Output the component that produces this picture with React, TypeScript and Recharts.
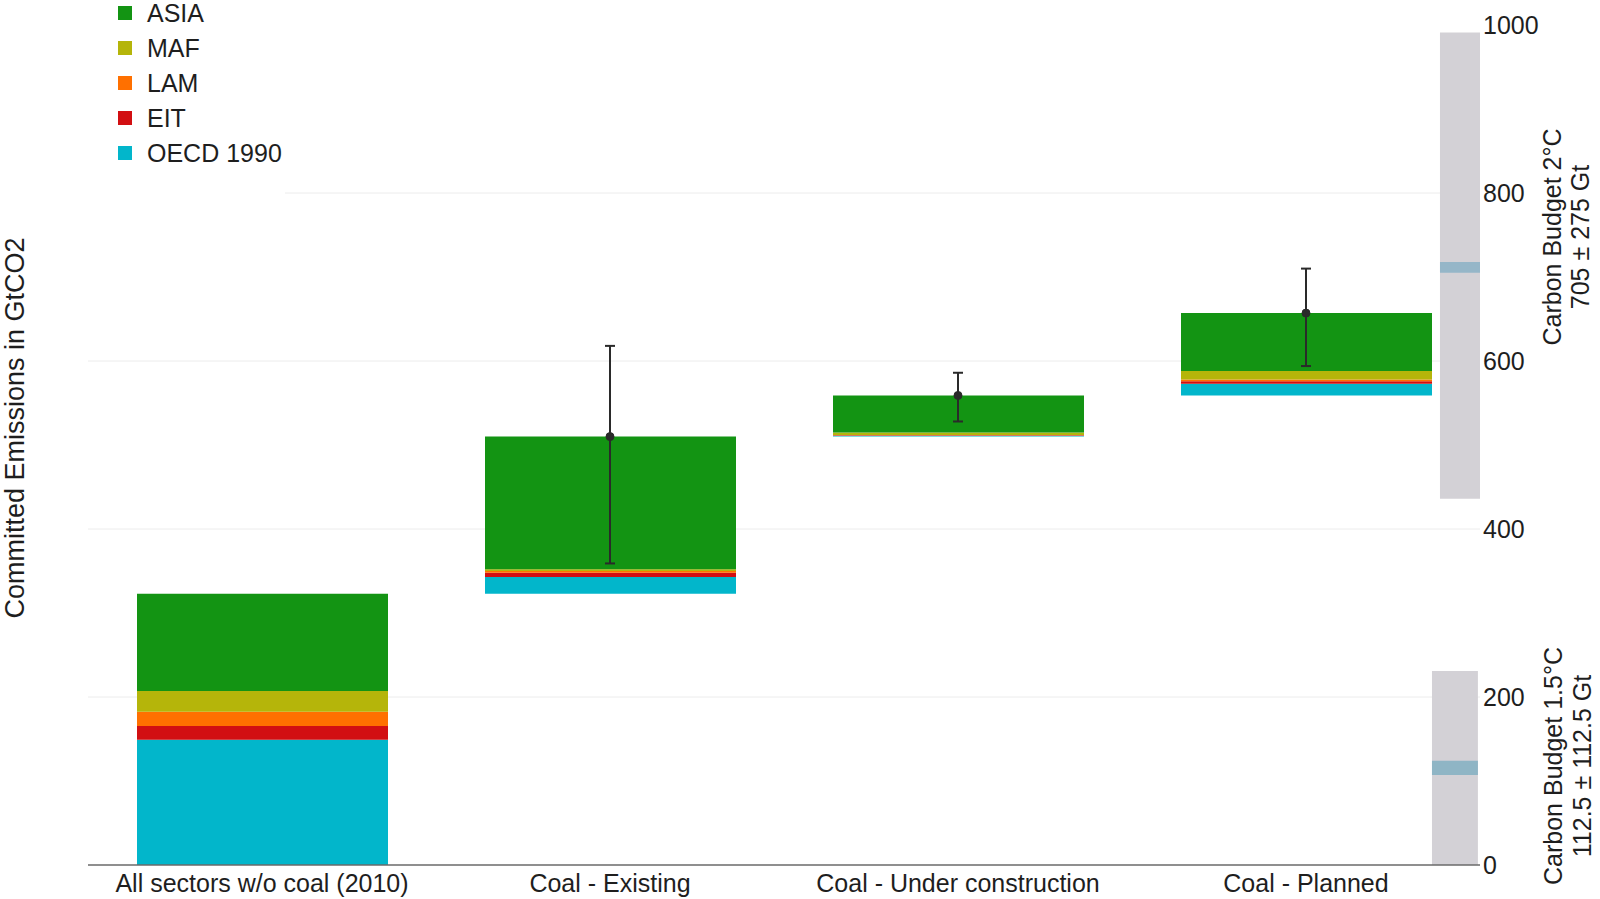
import React from "react";
import {
  ComposedChart,
  Bar,
  Line,
  ErrorBar,
  XAxis,
  YAxis,
  CartesianGrid,
  ReferenceArea,
} from "recharts";

// categories along the x axis
const categories = [
  "All sectors w/o coal (2010)",
  "Coal - Existing",
  "Coal - Under construction",
  "Coal - Planned",
];

// committed emissions per region (GtCO2), each bar stacks on the previous total
const oecd = [149, 20, 1, 14];
const eit = [16.5, 5, 0.5, 3];
const lam = [17, 2, 0.5, 2];
const maf = [24.5, 2, 3, 10];
const asia = [116, 158, 44, 69];

// uncertainty range around the top of each coal bar
const errLow: (number | null)[] = [null, 359, 528, 594];
const errHigh: (number | null)[] = [null, 618, 586, 710];

// carbon budgets: grey range and central estimate band
const budget2Range = [436, 991];
const budget2Mark = [705, 718];
const budget15Range = [0, 231];
const budget15Mark = [107, 124];

const rightTicks = [0, 200, 400, 600, 800, 1000];
const leftTicks = [1000];
const gridValues = [200, 400, 600, 800];

const FONT = "'Liberation Sans', Arial, sans-serif";
const TEXT = "#1e1e1e";

// horizontal placement of the budget columns, in category-index units
const BUDGET2_X = [3.385, 3.5];
const BUDGET15_X = [3.362, 3.494];

const regions = [
  { key: "oecd", name: "OECD 1990", color: "#02b6cb", values: oecd },
  { key: "eit", name: "EIT", color: "#d20f12", values: eit },
  { key: "lam", name: "LAM", color: "#ff7000", values: lam },
  { key: "maf", name: "MAF", color: "#b5b50a", values: maf },
  { key: "asia", name: "ASIA", color: "#139413", values: asia },
];

let running = 0;
const data = categories.map((category, i) => {
  const base = running;
  regions.forEach((r) => {
    running += r.values[i];
  });
  const top = running;
  const lo = errLow[i];
  const hi = errHigh[i];
  const row: Record<string, any> = {
    category,
    slot: i,
    base,
    top: lo == null ? null : top,
    err: lo == null || hi == null ? [0, 0] : [top - lo, hi - top],
  };
  regions.forEach((r) => {
    row[r.key] = r.values[i];
  });
  return row;
});

export default function App() {
  return (
    <div style={{ position: "absolute", left: 0, top: 0, width: 1600, height: 899, background: "#fff", fontFamily: FONT }}>
      <ComposedChart
        width={1600}
        height={899}
        data={data}
        margin={{ top: 25, right: 0, bottom: 0, left: 0 }}
        barCategoryGap={0}
      >
        <CartesianGrid
          yAxisId="right"
          vertical={false}
          horizontalValues={gridValues}
          stroke="#ececec"
          strokeWidth={1}
        />
        <XAxis
          dataKey="category"
          type="category"
          height={34}
          axisLine={{ stroke: "#6a6a6a", strokeWidth: 1.5 }}
          tickLine={false}
          tickSize={0}
          tickMargin={9}
          interval={0}
          tick={{ fontSize: 25, fill: TEXT, fontFamily: FONT }}
        />
        <XAxis
          xAxisId="slot"
          dataKey="slot"
          type="number"
          domain={[-0.5, 3.5]}
          allowDataOverflow
          hide
        />
        <YAxis
          yAxisId="left"
          orientation="left"
          width={88}
          domain={[0, 1000]}
          ticks={leftTicks}
          axisLine={false}
          tickLine={false}
          tickSize={0}
          tickMargin={2}
          tick={{ fontSize: 25, fill: TEXT, fontFamily: FONT }}
          label={{
            content: () => (
              <text
                transform="translate(15,428) rotate(-90)"
                textAnchor="middle"
                dominantBaseline="central"
                fontSize={27}
                fill={TEXT}
                fontFamily={FONT}
              >
                Committed Emissions in GtCO2
              </text>
            ),
          }}
        />
        <YAxis
          yAxisId="right"
          orientation="right"
          width={120}
          domain={[0, 1000]}
          ticks={rightTicks}
          axisLine={false}
          tickLine={false}
          tickSize={0}
          tickMargin={3}
          tick={{ fontSize: 25, fill: TEXT, fontFamily: FONT }}
        />

        <ReferenceArea xAxisId="slot" yAxisId="right" x1={BUDGET2_X[0]} x2={BUDGET2_X[1]} y1={budget2Range[0]} y2={budget2Range[1]} fill="#d3d1d6" fillOpacity={1} stroke="none" ifOverflow="visible" />
        <ReferenceArea xAxisId="slot" yAxisId="right" x1={BUDGET2_X[0]} x2={BUDGET2_X[1]} y1={budget2Mark[0]} y2={budget2Mark[1]} fill="#95b6c8" fillOpacity={1} stroke="none" ifOverflow="visible" />
        <ReferenceArea xAxisId="slot" yAxisId="right" x1={BUDGET15_X[0]} x2={BUDGET15_X[1]} y1={budget15Range[0]} y2={budget15Range[1]} fill="#d3d1d6" fillOpacity={1} stroke="none" ifOverflow="visible" />
        <ReferenceArea xAxisId="slot" yAxisId="right" x1={BUDGET15_X[0]} x2={BUDGET15_X[1]} y1={budget15Mark[0]} y2={budget15Mark[1]} fill="#8fb5c5" fillOpacity={1} stroke="none" ifOverflow="visible" />

        <Bar yAxisId="right" dataKey="base" stackId="a" fill="transparent" barSize={251} isAnimationActive={false} />
        {regions.map((r) => (
          <Bar
            key={r.key}
            yAxisId="right"
            dataKey={r.key}
            name={r.name}
            stackId="a"
            fill={r.color}
            barSize={251}
            isAnimationActive={false}
          />
        ))}
        <Line
          yAxisId="right"
          dataKey="top"
          stroke="none"
          dot={{ r: 4, fill: "#2a2a2a", stroke: "#2a2a2a", strokeWidth: 1 }}
          activeDot={false}
          isAnimationActive={false}
        >
          <ErrorBar dataKey="err" direction="y" width={5} stroke="#2a2a2a" strokeWidth={2} />
        </Line>
      </ComposedChart>

      {/* legend, top-left; white box hides the 800 grid line behind it */}
      <div style={{ position: "absolute", left: 88, top: 0, width: 197, height: 205, background: "#fff" }}>
        {[...regions].reverse().map((r, i) => (
          <div
            key={r.key}
            style={{ position: "absolute", left: 30, top: i * 35 - 4, height: 34, display: "flex", alignItems: "center" }}
          >
            <span style={{ display: "inline-block", width: 14, height: 14, background: r.color }} />
            <span style={{ marginLeft: 15, fontSize: 25, color: TEXT, lineHeight: "34px" }}>{r.name}</span>
          </div>
        ))}
      </div>

      {/* carbon budget captions on the right */}
      <svg width={1600} height={899} style={{ position: "absolute", left: 0, top: 0, pointerEvents: "none" }}>
        <g fontSize={25} fill={TEXT} fontFamily={FONT} textAnchor="middle" dominantBaseline="central">
          <text transform="translate(1552,237) rotate(-90)">Carbon Budget 2°C</text>
          <text transform="translate(1580,237) rotate(-90)">705 ± 275 Gt</text>
          <text transform="translate(1553,766) rotate(-90)">Carbon Budget 1.5°C</text>
          <text transform="translate(1582,766) rotate(-90)">112.5 ± 112.5 Gt</text>
        </g>
      </svg>
    </div>
  );
}
